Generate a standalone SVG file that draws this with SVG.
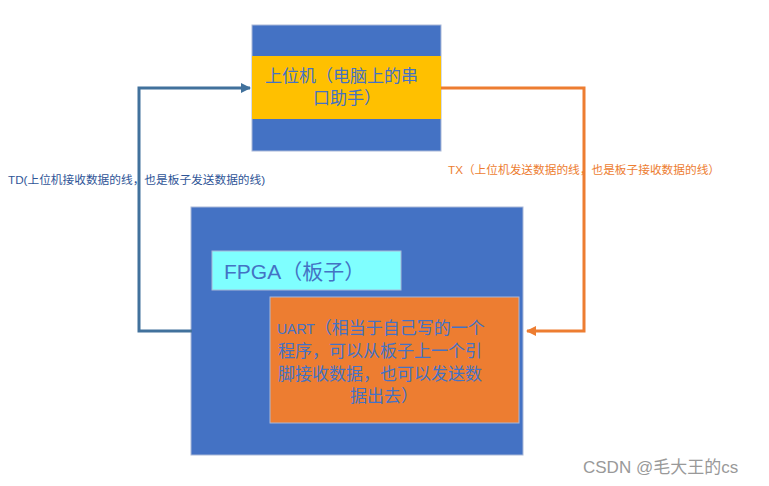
<svg xmlns="http://www.w3.org/2000/svg" width="769" height="486" viewBox="0 0 769 486">
<style>
text{font-family:"Liberation Sans","Noto Sans CJK SC",sans-serif;fill:#4472C4}
.box{fill:#4472C4;stroke:#A9B8D8;stroke-width:1}
.cn{font-size:17px}
.lbl{font-size:11.7px}
</style>
<defs>
<marker id="ab" markerWidth="10" markerHeight="10" refX="9" refY="5" orient="auto" markerUnits="userSpaceOnUse"><path d="M0,0 L10,5 L0,10 z" fill="#41719C"/></marker>
<marker id="ao" markerWidth="10" markerHeight="10" refX="9" refY="5" orient="auto" markerUnits="userSpaceOnUse"><path d="M0,0 L10,5 L0,10 z" fill="#ED7D31"/></marker>
</defs>
<rect width="769" height="486" fill="#fff"/>
<g id="pc">
<rect class="box" x="252" y="25" width="189" height="126"/>
<rect x="252" y="56" width="189" height="63" fill="#FFC000"/>
<text class="cn" x="265" y="82">上位机（电脑上的串</text>
<text class="cn" x="347" y="104" text-anchor="middle">口助手）</text>
</g>
<g id="fpga">
<rect class="box" x="191" y="207" width="332" height="248"/>
<rect x="212" y="251" width="189" height="39" fill="#7FFFFF" stroke="#A9B8D8"/>
<text x="224" y="279" font-size="21">FPGA（板子）</text>
</g>
<g id="uart">
<rect x="270" y="297" width="249" height="126" fill="#ED7D31" stroke="#A9B8D8"/>
<text class="cn" x="277" y="334"><tspan font-size="14">UART</tspan>（相当于自己写的一个</text>
<text class="cn" x="278" y="357">程序，可以从板子上一个引</text>
<text class="cn" x="278" y="380">脚接收数据，也可以发送数</text>
<text class="cn" x="350" y="402">据出去）</text>
</g>
<g id="connectors" fill="none" stroke-width="3">
<path d="M192,331 H139 V88 H250" stroke="#41719C" marker-end="url(#ab)"/>
<path d="M441,88 H584 V331 H527" stroke="#ED7D31" marker-end="url(#ao)"/>
</g>
<g id="labels">
<text class="lbl" x="8" y="184" style="fill:#2F5597">TD(上位机接收数据的线，也是板子发送数据的线)</text>
<text class="lbl" x="448" y="174" style="fill:#ED7D31">TX（上位机发送数据的线，也是板子接收数据的线）</text>
</g>
<text x="583" y="473" font-size="17" style="fill:#999">CSDN @毛大王的cs</text>
</svg>
